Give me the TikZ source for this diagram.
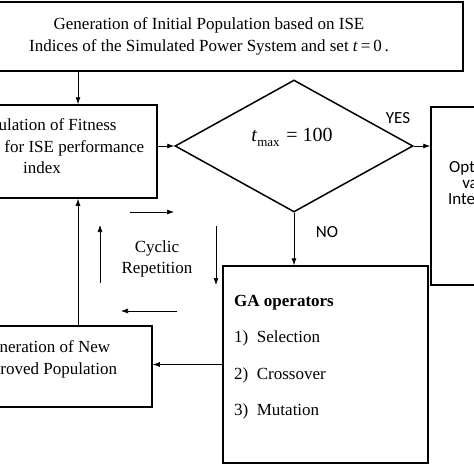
\documentclass[tikz,border=0pt]{standalone}
\usepackage{fontspec}
\setmainfont{Liberation Serif}
\newfontfamily\calfont{Carlito}
\usepackage{tikz}
\usetikzlibrary{arrows.meta,positioning,shapes.geometric}

\begin{document}
\begin{tikzpicture}[
  x=1pt, y=-1pt, >={Latex[length=7pt,width=5pt]},
  box/.style={draw=black, line width=1.5pt, inner sep=0pt, fill=white},
  txt/.style={font=\fontsize{17}{21.5}\selectfont, align=center, inner sep=0pt},
  sans/.style={font=\calfont\fontsize{17}{16}\selectfont, align=center, inner sep=0pt},
  arrow/.style={->, line width=0.8pt, black}
]
\useasboundingbox (0,0) rectangle (474,474);
\clip (0,0) rectangle (474,474);

% boxes
\node[box, minimum width=508pt, minimum height=69pt, txt] (init) at (209,36.5)
  {Generation of Initial Population based on ISE\\
   Indices of the Simulated Power System and set \textit{t}\,=\,0\,.};
\node[box, minimum width=234pt, minimum height=93pt] (fit) at (40,151.5) {};
\node[txt] (fittxt) at (42,146.5) {Calculation of Fitness\\ Function for ISE performance\\ index};
\node[draw=black, line width=1.5pt, diamond, minimum width=238pt, minimum height=132pt, inner sep=0pt] (dia) at (294,146) {};
\node[txt, font=\fontsize{20}{22}\selectfont] (diatxt) at (292,137) {\textit{t}\raisebox{-5pt}{\fontsize{13}{13}\selectfont max}\,\,= 100};
\node[box, minimum width=118pt, minimum height=178pt] (opt) at (490,196) {};
\node[sans] (opttxt) at (493,184) {Optimal gain\\ values of\\ Integral term};
\node[box, minimum width=205pt, minimum height=197pt] (ga) at (325.5,364.5) {};
\node[txt, align=left, anchor=west, font=\fontsize{17}{36.5}\selectfont] (gatxt) at (234,357)
  {\textbf{GA operators}\\ 1)\enspace Selection\\ 2)\enspace Crossover\\ 3)\enspace Mutation};
\node[box, minimum width=210pt, minimum height=81pt] (newpop) at (47,366.5) {};
\node[txt] (newtxt) at (45,359.5) {Generation of New\\ Improved Population};

% labels
\node[sans] (yes) at (398,118) {YES};
\node[sans] (no) at (327,232) {NO};
\node[txt] (cyc) at (157,259) {Cyclic\\ Repetition};

% connectors
\coordinate (loopx) at (78,0);
\draw[arrow] (init.south -| loopx) -- (fit.north -| loopx);
\draw[arrow] (dia.west -| fit.east) -- (dia.west);
\draw[arrow] (dia.east) -- (dia.east -| opt.west);
\draw[arrow] (dia.south) -- (dia.south |- ga.north);
\draw[arrow] (ga.west) -- (ga.west -| newpop.east);
\draw[arrow] (newpop.north -| loopx) -- (fit.south -| loopx);

% cyclic repetition arrows
\coordinate (c1) at (130,212);
\coordinate (c2) at (174,212);
\coordinate (c3) at (216,226);
\coordinate (c4) at (216,285);
\coordinate (c5) at (177,311);
\coordinate (c6) at (121,311);
\coordinate (c7) at (100,283);
\coordinate (c8) at (100,225);
\draw[arrow, line width=0.6pt] (c1) -- (c2);
\draw[arrow, line width=0.6pt] (c3) -- (c4);
\draw[arrow, line width=0.6pt] (c5) -- (c6);
\draw[arrow, line width=0.6pt] (c7) -- (c8);

\end{tikzpicture}
\end{document}
